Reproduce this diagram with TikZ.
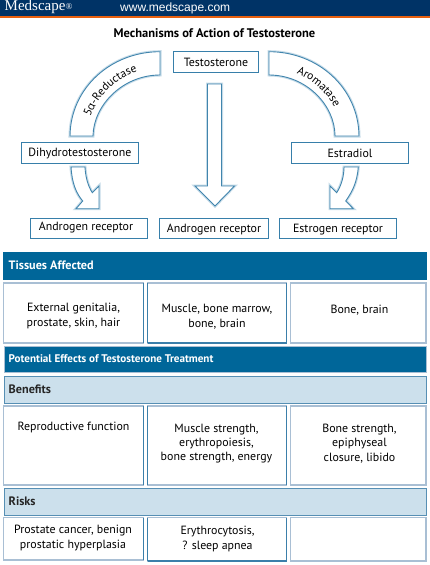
\documentclass[tikz,border=0pt]{standalone}
\usepackage{fontspec}
\setmainfont{PT Sans}
\newfontfamily\greekf{Open Sans}
\usetikzlibrary{decorations.text}
\definecolor{navy}{HTML}{003366}
\definecolor{orangebar}{HTML}{E8600F}
\definecolor{band}{HTML}{006699}
\definecolor{pale}{HTML}{CCE0EC}
\definecolor{edgeblue}{HTML}{1F6F9F}
\definecolor{edgelight}{HTML}{7FB0CC}
\definecolor{edgegrey}{HTML}{A9BFD4}
\tikzset{
  x=1pt,y=-1pt,
  txt/.style={font=\fontsize{11.9}{14.4}\selectfont,text=black,align=center,inner sep=0pt,yshift=-0.9pt},
  lbl/.style={font=\bfseries\fontsize{12.2}{14}\selectfont,anchor=west,inner sep=0pt},
  stepbox/.style={draw=edgeblue!75!edgelight,line width=1pt,fill=white},
  cellbox/.style={draw=edgegrey,line width=1.1pt,fill=white},
  glow/.style={preaction={draw=edgelight!45,line width=3pt},draw=edgeblue!85,line width=.9pt,fill=white,line join=miter},
  bandbox/.style={fill=band,draw=edgegrey,line width=.9pt},
  palebox/.style={fill=pale,draw=edgeblue!60!edgegrey,line width=1pt},
  darkside/.style={draw=edgeblue!80!edgegrey,line width=1.1pt},
}
\begin{document}
\begin{tikzpicture}
\useasboundingbox (0,0) rectangle (430,565);
\fill[white] (0,0) rectangle (430,565);
% header
\fill[navy] (0,0) rectangle (430,15.5);
\fill[orangebar] (0,15.5) rectangle (430,17.5);
\node[anchor=west,inner sep=0pt,text=white,font=\fontspec{Liberation Serif}\fontsize{15}{15}\selectfont] (brand) at (4.5,7.3) {Medscape\raisebox{1pt}{\fontsize{9}{9}\selectfont ®}};
\node[anchor=west,inner sep=0pt,text=white,font=\fontspec{Liberation Sans}\fontsize{12}{12}\selectfont] (url) at (120,8) {www.medscape.com};
\node[txt,font=\bfseries\fontsize{12.5}{14}\selectfont] (title) at (214.5,32.3) {Mechanisms of Action of Testosterone};
% curved enzyme bands
\draw[glow] (160,51.7) .. controls (111,51.7) and (70.5,88) .. (70,136) -- (93,136) .. controls (93.5,105) and (123,75) .. (160,75) -- cycle;
\draw[glow] (269,51.7) .. controls (318,51.7) and (358.5,88) .. (359,136) -- (335,136) .. controls (335,105) and (306,75) .. (269,75) -- cycle;
\path[decorate,decoration={text along path,text align=center,
  text={|\fontsize{11.5}{13}\selectfont|5|\fontsize{11}{13}\selectfont\greekf|α|\fontsize{11.5}{13}\selectfont|-Reductase}}]
  (86.4,134.3) .. controls (90.2,98.6) and (119,70.7) .. (154.8,68.2);
\path[decorate,decoration={text along path,text align=center,
  text={|\fontsize{11.5}{13}\selectfont|Aromatase}}]
  (271.6,68) .. controls (307.5,69.3) and (337.3,96.2) .. (342.3,131.7);
% block arrows
\draw[glow] (207.5,84) -- (221.5,84) -- (221.5,186) -- (234.5,186) -- (215,206) -- (195,186) -- (207.5,186) -- cycle;
\draw[glow] (71,167) .. controls (72,183) and (76,193) .. (82.7,201) -- (76,208.7) -- (99,208.7) -- (99,186) -- (92.3,192.7) .. controls (88,186) and (85.5,177) .. (85,167) -- cycle;
\draw[glow] (344,167) .. controls (344,177) and (341,186) .. (336.7,192.7) -- (330,186) -- (330,208.7) -- (353.3,208.7) -- (345.7,201) .. controls (352,192) and (357,183) .. (358.3,167) -- cycle;
% pathway boxes
\node[stepbox,minimum width=85pt,minimum height=21pt,inner sep=0pt] (testo) at (216,62) {};
\node[txt] at (testo.center) {Testosterone};
\node[stepbox,minimum width=117pt,minimum height=21pt,inner sep=0pt] (dht) at (79.8,152.5) {};
\node[txt] at (dht.center) {Dihydrotestosterone};
\node[stepbox,minimum width=117pt,minimum height=21pt,inner sep=0pt] (estra) at (350,152.5) {};
\node[txt] at (estra.center) {Estradiol};
\node[stepbox,minimum width=117pt,minimum height=20.5pt,inner sep=0pt] (ar1) at (89.2,228.7) {};
\node[txt] at (86,227) {Androgen receptor};
\node[stepbox,minimum width=109pt,minimum height=20.5pt,inner sep=0pt] (ar2) at (214,228.7) {};
\node[txt] at (ar2.center) {Androgen receptor};
\node[stepbox,minimum width=117pt,minimum height=20.5pt,inner sep=0pt] (er) at (338,228.7) {};
\node[txt] at (er.center) {Estrogen receptor};
% tissues
\fill[band] (3,252) rectangle (427,280);
\node[lbl,text=white] (tissues) at (8.5,265) {Tissues Affected};
\draw[cellbox] (3.5,283) rectangle (143.5,343);
\draw[cellbox] (147.5,283) rectangle (286.5,343);
\draw[cellbox] (290.5,283) rectangle (426,343);
\draw[darkside] (143.5,283) -- (143.5,343) (147.5,283) -- (147.5,343) (286.5,283) -- (286.5,343) (147.5,343) -- (286.5,343);
\node[txt] (t1) at (73.5,315) {External genitalia,\\prostate, skin, hair};
\node[txt] (t2) at (217,316) {Muscle, bone marrow,\\bone, brain};
\node[txt] (t3) at (359.5,309) {Bone, brain};
% potential effects
\draw[bandbox] (4,346.5) rectangle (426,372.5);
\node[lbl,text=white,font=\bfseries\fontsize{11.1}{14}\selectfont] (pot) at (8.5,359) {Potential Effects of Testosterone Treatment};
\draw[palebox] (4,376.5) rectangle (426,403);
\node[lbl,text=black!85] (ben) at (8.5,389) {Benefits};
\draw[cellbox] (3.5,406) rectangle (143.5,485);
\draw[cellbox] (147.5,406) rectangle (286.5,485);
\draw[cellbox] (290.5,406) rectangle (426,485);
\draw[darkside] (143.5,406) -- (143.5,485) (147.5,406) -- (147.5,485) (286.5,406) -- (286.5,485);
\node[txt] (b1) at (73.5,427) {Reproductive function};
\node[txt] (b2) at (216.5,442.7) {Muscle strength,\\erythropoiesis,\\bone strength, energy};
\node[txt] (b3) at (359.5,442.7) {Bone strength,\\epiphyseal\\closure, libido};
\draw[palebox] (4,488.5) rectangle (426,515.5);
\node[lbl,text=black!85] (risks) at (8.5,501) {Risks};
\draw[cellbox] (3.5,517.5) rectangle (143.5,560);
\draw[cellbox] (147.5,517.5) rectangle (286.5,561);
\draw[cellbox] (290.5,517.5) rectangle (426,561);
\draw[darkside] (143.5,517.5) -- (143.5,560) (147.5,517.5) -- (147.5,561) (286.5,517.5) -- (286.5,561) (147.5,561) -- (286.5,561);
\node[txt] (r1) at (73,537) {Prostate cancer, benign\\prostatic hyperplasia};
\node[txt] (r2) at (217.5,538) {Erythrocytosis,\\? sleep apnea};
\end{tikzpicture}
\end{document}
